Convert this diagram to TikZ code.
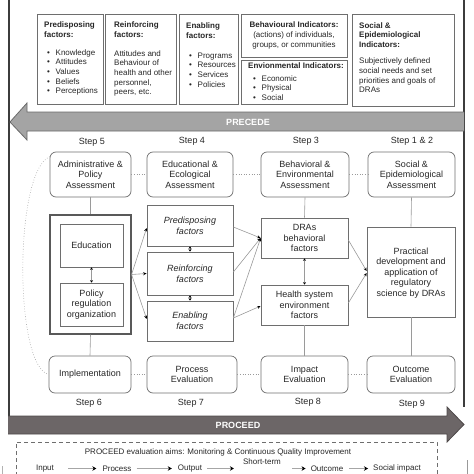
\documentclass[tikz,border=0pt]{standalone}
\usepackage{fontspec}
\setmainfont{Liberation Sans}
\usetikzlibrary{arrows.meta}
\definecolor{ink}{HTML}{262626}
\definecolor{boxc}{HTML}{6E6E6E}
\definecolor{linec}{HTML}{9A9A9A}
\definecolor{framec}{HTML}{3C3C3C}
\definecolor{precfill}{HTML}{A4A4A4}
\definecolor{precdraw}{HTML}{6A6A6A}
\definecolor{procfill}{HTML}{6C6667}
\definecolor{procdraw}{HTML}{4E4949}
\newcommand\fsS{\fontsize{8}{9.7}\selectfont}
\newcommand\fsM{\fontsize{9}{10.6}\selectfont}
\newcommand\bul{\makebox[8.5pt][l]{\textbullet}}
\begin{document}
\begin{tikzpicture}[x=1pt,y=-1pt,
  fbox/.style={draw=boxc, line width=0.7pt, inner sep=0pt},
  ftxt/.style={font=\fsS, text=ink, align=left, inner sep=0pt, anchor=west},
  fhead/.style={ftxt, font=\fsS\bfseries},
  ctxt/.style={font=\fsS, text=ink, align=center, inner sep=0pt},
  rbox/.style={draw=boxc, line width=0.7pt, rounded corners=6pt, inner sep=0pt, align=center, font=\fsM, text=ink},
  sbox/.style={draw=boxc, line width=0.7pt, inner sep=0pt, align=center, font=\fsM, text=ink},
  obox/.style={draw=framec!85, line width=1.1pt, inner sep=0pt},
  steplbl/.style={font=\fsM, text=ink, inner sep=0pt},
  conn/.style={draw=linec, line width=0.6pt},
  arr/.style={conn, -{Stealth[length=3.5pt,width=3pt,color=black]}},
  darr/.style={conn, {Stealth[length=2.5pt,width=3pt,color=black]}-{Stealth[length=2.5pt,width=3pt,color=black]}},
  dotl/.style={draw=linec, line width=0.6pt, dotted},
  flow/.style={draw=black!35, line width=1.8pt, -{Stealth[length=4pt,width=4.5pt,color=black]}},
  banner/.style={font=\fsM\bfseries, text=white, inner sep=0pt},
]
\useasboundingbox (0,0) rectangle (474,474);

% outer frame
\draw[framec, line width=1.2pt] (9,0) -- (9,416);
\draw[framec, line width=1.2pt] (464,0) -- (464,407);
\draw[black!40, line width=0.8pt] (467,460) -- (467,474);
\draw[black!30, line width=0.8pt] (2,466) -- (2,474);

% ---------- top factor boxes ----------
\node[fbox, minimum width=66pt, minimum height=90pt] (b1) at (70,59) {};
\node[fbox, minimum width=71pt, minimum height=90pt] (b2) at (140.5,59) {};
\node[fbox, minimum width=59pt, minimum height=90pt] (b3) at (208.5,59) {};
\node[fbox, minimum width=106pt, minimum height=43pt] (b4) at (294,35.5) {};
\node[fbox, minimum width=106pt, minimum height=44pt] (b5) at (294,82) {};
\node[fbox, minimum width=102pt, minimum height=92pt] (b6) at (403,60) {};

\node[fhead] (h1) at (44,29.5) {Predisposing\\factors:};
\node[ftxt] (l1) at (47,72.5) {\bul Knowledge\\\bul Attitudes\\\bul Values\\\bul Beliefs\\\bul Perceptions};
\node[fhead] (h2) at (114,29.5) {Reinforcing\\factors:};
\node[ftxt] (l2) at (114,73.5) {Attitudes and\\Behaviour of\\health and other\\personnel,\\peers, etc.};
\node[fhead] (h3) at (186,30.5) {Enabling\\factors:};
\node[ftxt] (l3) at (189,70) {\bul Programs\\\bul Resources\\\bul Services\\\bul Policies};
\node[ctxt, font=\fsS\bfseries] (h4) at (294,24.5) {Behavioural Indicators:};
\node[ctxt] (l4) at (294,40.5) {(actions) of individuals,\\groups, or communities};
\node[fhead] (h5) at (248,66) {Envionmental Indicators:};
\node[ftxt] (l5) at (253,88) {\bul Economic\\\bul Physical\\\bul Social};
\node[fhead] (h6) at (359,35) {Social \&\\Epidemiological\\Indicators:};
\node[ftxt] (l6) at (359,75.5) {Subjectively defined\\social needs and set\\priorities and goals of\\DRAs};

% ---------- PRECEDE arrow ----------
\path[fill=precfill, draw=precdraw, line width=0.8pt]
  (464,112) -- (27,112) -- (27,103) -- (10,122) -- (27,140) -- (27,131) -- (464,131);
\node[banner] (precede) at (248,122) {PRECEDE};

% ---------- step labels ----------
\node[steplbl] (s5) at (92,142.5) {Step 5};
\node[steplbl] (s4) at (192,141) {Step 4};
\node[steplbl] (s3) at (306,141) {Step 3};
\node[steplbl] (s12) at (412,141) {Step 1 \& 2};
\node[steplbl] (s6) at (89,403) {Step 6};
\node[steplbl] (s7) at (191,403) {Step 7};
\node[steplbl] (s8) at (308,402) {Step 8};
\node[steplbl] (s9) at (412,404) {Step 9};

% ---------- assessment boxes ----------
\node[rbox, minimum width=81pt, minimum height=45pt] (a5) at (90.5,174.5) {Administrative \&\\Policy\\Assessment};
\node[rbox, minimum width=86pt, minimum height=45pt] (a4) at (190,174.5) {Educational \&\\Ecological\\Assessment};
\node[rbox, minimum width=88pt, minimum height=45pt] (a3) at (305,174.5) {Behavioral \&\\Environmental\\Assessment};
\node[rbox, minimum width=87pt, minimum height=45pt] (a12) at (411.5,174.5) {Social \&\\Epidemiological\\Assessment};

% ---------- evaluation boxes ----------
\node[rbox, minimum width=82pt, minimum height=37pt] (e6) at (90,374.5) {Implementation};
\node[rbox, minimum width=90pt, minimum height=37pt] (e7) at (192,374.5) {Process\\Evaluation};
\node[rbox, minimum width=87pt, minimum height=37pt] (e8) at (304.5,374.5) {Impact\\Evaluation};
\node[rbox, minimum width=88pt, minimum height=37pt] (e9) at (411,374.5) {Outcome\\Evaluation};

% ---------- middle boxes ----------
\node[obox, minimum width=81pt, minimum height=119pt] (org) at (90.5,274.5) {};
\node[sbox, minimum width=63pt, minimum height=43pt] (edu) at (91.5,245.5) {Education};
\node[sbox, minimum width=63pt, minimum height=43pt] (pol) at (91.5,304.5) {Policy\\regulation\\organization};
\node[sbox, minimum width=86pt, minimum height=41pt, font=\fsM\itshape] (pre) at (190,225.5) {Predisposing\\factors};
\node[sbox, minimum width=86pt, minimum height=43pt, font=\fsM\itshape] (rei) at (190,273.5) {Reinforcing\\factors};
\node[sbox, minimum width=86pt, minimum height=40pt, font=\fsM\itshape] (ena) at (190,321) {Enabling\\factors};
\node[sbox, minimum width=87pt, minimum height=40pt] (dra) at (304.5,238) {DRAs\\behavioral\\factors};
\node[sbox, minimum width=87pt, minimum height=40pt] (hea) at (304.5,305) {Health system\\environment\\factors};
\node[sbox, minimum width=88pt, minimum height=90pt, text depth=0pt] (pra) at (411,272) {Practical\\development and\\application of\\regulatory\\science by DRAs};

% vertical links
\draw[conn] (a5.south) -- (org.north);
\draw[conn] (org.south) -- (e6.north);
\draw[conn] (a3.south) -- (dra.north);
\draw[conn] (hea.south) -- (e8.north);
\draw[conn] (a12.south) -- (pra.north);
\draw[conn] (pra.south) -- (e9.north);

% double arrows
\draw[darr] (edu.south) -- (pol.north);
\draw[darr] (pre.south) -- (rei.north);
\draw[darr] (rei.south) -- (ena.north);
\draw[darr] (dra.south) -- (hea.north);

% fan arrows
\coordinate (orgout) at (org.east);
\draw[arr] (orgout) -- ([yshift=-2.5pt]pre.west);
\draw[arr] (orgout) -- (rei.west);
\draw[arr] (orgout) -- ([yshift=2pt]ena.west);
\draw[arr] ([yshift=-1.5pt]pre.east) -- (dra.west);
\draw[arr] ([yshift=1.5pt]rei.east) -- (dra.west);
\draw[arr] ([yshift=3pt]ena.east) -- (dra.west);
\draw[arr] ([yshift=3pt]ena.east) -- ([yshift=-1pt]hea.west);
\draw[arr] ([yshift=-2pt]dra.east) -- ([yshift=1pt]pra.west);
\draw[arr] ([yshift=2pt]hea.east) -- ([yshift=-1pt]pra.west);

% dotted links
\draw[dotl] (a5) -- (a4);
\draw[dotl] (a4) -- (a3);
\draw[dotl] (a3) -- (a12);
\draw[dotl] (e6) -- (e7);
\draw[dotl] (e7) -- (e8);
\draw[dotl] (e8) -- (e9);
\draw[dotl] ([yshift=-5pt]a5.north west) .. controls (14,172) and (14,366) .. (e6.west);

% ---------- PROCEED arrow ----------
\path[fill=procfill, draw=procdraw, line width=0.8pt]
  (8,416) -- (447,416) -- (447,407) -- (464,424.5) -- (447,442) -- (447,434) -- (8,434);
\node[banner] (proceed) at (238,425.5) {PROCEED};

% ---------- evaluation aims ----------
\draw[boxc, line width=0.7pt, dash pattern=on 4pt off 3pt] (16,490) -- (16,442) -- (437,442) -- (437,490);
\node[ctxt] (aims) at (218,452) {PROCEED evaluation aims: Monitoring \& Continuous Quality Improvement};
\node[ctxt] (inp) at (45,468.5) {Input};
\node[ctxt] (prc) at (117,468.5) {Process};
\node[ctxt] (out) at (190,468.5) {Output};
\node[ctxt] (sht) at (262,462) {Short-term};
\node[ctxt] (ocm) at (327,468.5) {Outcome};
\node[ctxt] (soc) at (397,468.5) {Social impact};
\draw[flow] ([xshift=14pt]inp.east) -- ([xshift=-6pt]prc.west);
\draw[flow] ([xshift=5pt]prc.east) -- ([xshift=-6pt]out.west);
\draw[flow] ([xshift=5pt]out.east) -- ([xshift=-9pt,yshift=-6.5pt]sht.west);
\draw[flow] ([xshift=11pt,yshift=-6.5pt]sht.east) -- ([xshift=-5pt]ocm.west);
\draw[flow] ([xshift=6pt]ocm.east) -- ([xshift=-5pt]soc.west);
\end{tikzpicture}
\end{document}
